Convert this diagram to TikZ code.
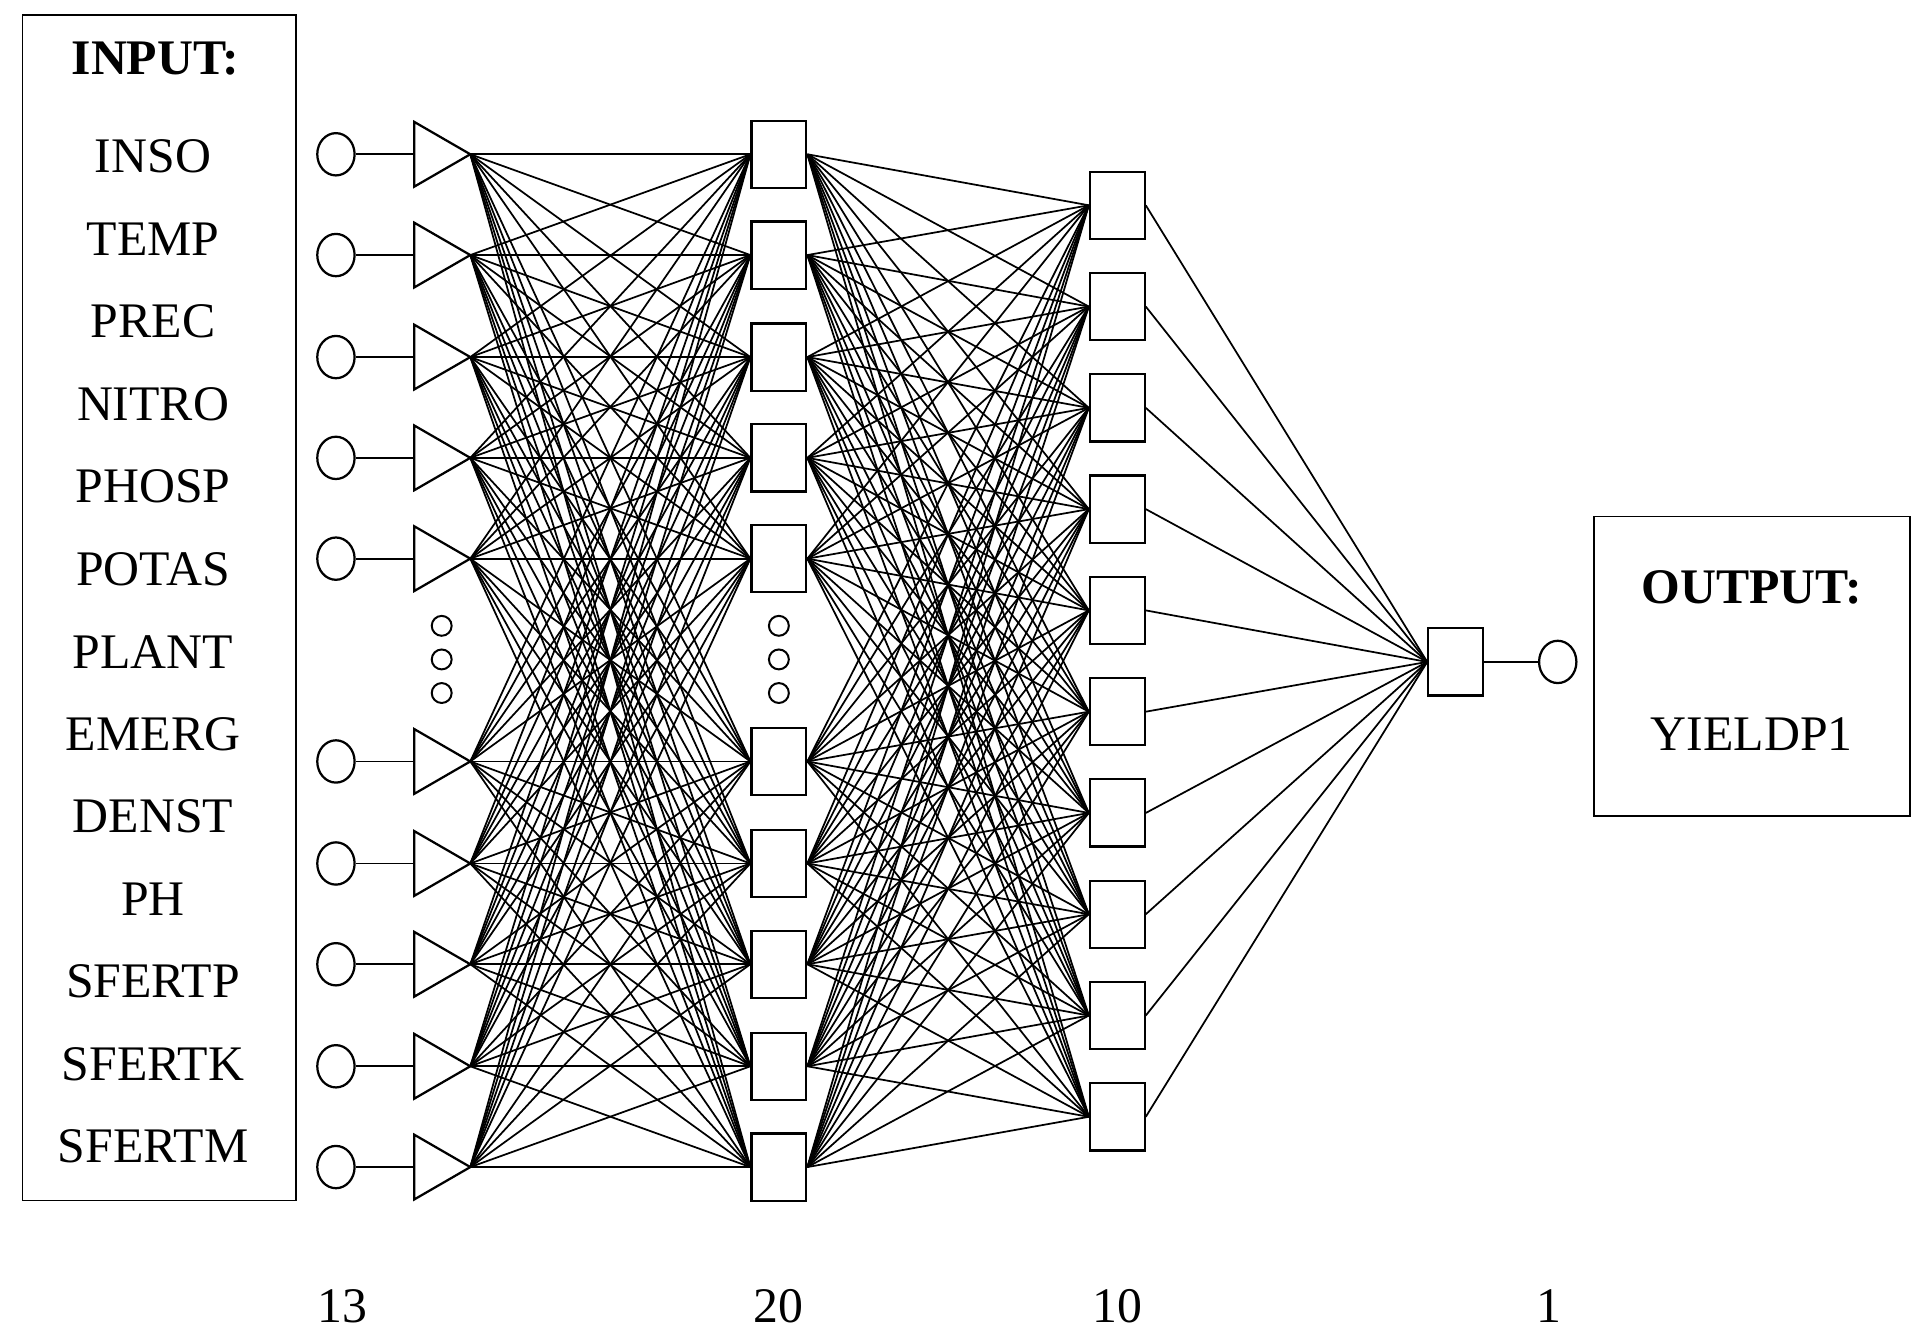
\documentclass[tikz,border=0pt]{standalone}
\usepackage{fontspec}
\setmainfont{Liberation Serif}
\usetikzlibrary{shapes.geometric}
\begin{document}
\begin{tikzpicture}[x=1pt,y=-1pt,
  txt/.style={font=\fontsize{40}{48}\selectfont,inner sep=0pt},
  btxt/.style={font=\fontsize{40}{48}\selectfont\bfseries,inner sep=0pt},
  inc/.style={draw,line width=1.8pt,ellipse,fill=white,minimum width=30pt,minimum height=34pt,inner sep=0pt},
  dotc/.style={draw,line width=1.6pt,circle,minimum size=16pt,inner sep=0pt},
  sq/.style={draw,line width=1.8pt,fill=white,minimum width=44pt,minimum height=54pt,inner sep=0pt},
  frame/.style={draw,line width=1.2pt},
  conn/.style={line width=1.4pt}]
\useasboundingbox (0,0) rectangle (1552,1075);
\draw[frame] (18,12) rectangle (238,965);
\node[btxt] (inp) at (125,47) {INPUT:};
\foreach \t [count=\i] in {INSO,TEMP,PREC,NITRO,PHOSP,POTAS,PLANT,EMERG,DENST,PH,SFERTP,SFERTK,SFERTM}
  \node[txt] (l\i) at (123,{126+(\i-1)*66.3}) {\t};
\draw[frame] (1281,415) rectangle (1535,656);
\node[btxt] (outt) at (1408,472) {OUTPUT:};
\node[txt] (outl) at (1408,590) {YIELDP1};
\def\rows{124,205,287,368,449,612,694,775,857,938}
\foreach \y [count=\i] in \rows {
  \node[inc] (c\i) at (270,\y) {};
  \coordinate (tl\i) at (333,\y);
  \coordinate (ta\i) at (378,\y);
  \draw[conn] (c\i) -- (tl\i);
}
\foreach \y [count=\j] in \rows {
  \node[sq] (h\j) at (626,\y) {};
}
\foreach \k in {1,...,10}{
  \node[sq] (g\k) at (898,{165+(\k-1)*81.4}) {};
}
\node[sq] (o) at (1170,532) {};
\node[inc] (oc) at (1252,532) {};
\foreach \i in {1,...,10}{
  \foreach \j in {1,...,10}{
    \draw[conn] (ta\i) -- (h\j.west);
  }
}
\foreach \j in {1,...,10}{
  \foreach \k in {1,...,10}{
    \draw[conn] (h\j.east) -- (g\k.west);
  }
}
\foreach \k in {1,...,10}{
  \draw[conn] (g\k.east) -- (o.west);
}
\draw[conn] (o) -- (oc);
\foreach \y [count=\i] in \rows {
  \draw[line width=1.8pt,fill=white] (333,\y-26) -- (378,\y) -- (333,\y+26) -- cycle;
  \node[sq] at (626,\y) {};
}
\foreach \k in {1,...,10}{ \node[sq] at (898,{165+(\k-1)*81.4}) {}; }
\node[sq] at (1170,532) {};
\foreach \y [count=\d] in {503,530,557}{
  \node[dotc] (da\d) at (355,\y) {};
  \node[dotc] (db\d) at (626,\y) {};
}
\node[txt] (n1) at (275,1050) {13};
\node[txt] (n2) at (626,1050) {20};
\node[txt] (n3) at (898,1050) {10};
\node[txt] (n4) at (1245,1050) {1};
\end{tikzpicture}
\end{document}
